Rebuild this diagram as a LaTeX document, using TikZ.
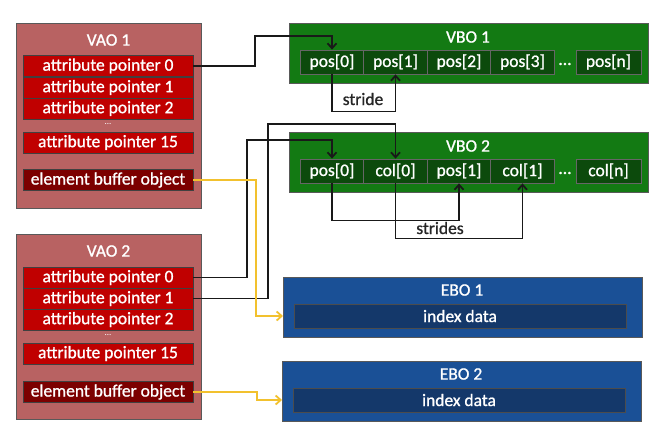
\documentclass[tikz,border=0pt]{standalone}
\usepackage{fontspec}
\setmainfont{Carlito}
\newfontfamily\boxfam{Carlito}[FakeBold=1]
\usepackage{tikz}
\usetikzlibrary{
    calc,
    positioning,
    arrows.meta
}
\definecolor{vaoback}{HTML}{B86262}
\definecolor{ptrred}{HTML}{C00000}
\definecolor{ebored}{HTML}{7C0000}
\definecolor{vbogreen}{HTML}{137A13}
\definecolor{cellgreen}{HTML}{0C4A0C}
\definecolor{ebofill}{HTML}{1A5096}
\definecolor{ebodata}{HTML}{14386A}
\definecolor{linkyellow}{HTML}{F2C12E}
\newcommand{\boxfont}{\boxfam\fontsize{17.5}{19}\selectfont}

\begin{document}
\begin{tikzpicture}[x=1pt,y=-1pt]
                  \useasboundingbox (0,0) rectangle (663,440);

                  % Box and link styles
                  \tikzset{
                        vaobox/.style={draw=black!65, line width=1pt, fill=vaoback, anchor=north west,
                              minimum width=185pt, minimum height=185pt, inner sep=0pt},
                        ptrrow/.style={draw=black!75, line width=0.8pt, fill=ptrred, text=white,
                              minimum width=170pt, minimum height=21pt, inner sep=0pt, font=\boxfont},
                        eborow/.style={ptrrow, fill=ebored},
                        boxtitle/.style={text=white, inner sep=0pt, font=\boxfont},
                        vbobox/.style={draw=black!65, line width=1pt, fill=vbogreen, anchor=north west,
                              minimum width=359pt, minimum height=60pt, inner sep=0pt},
                        cell/.style={draw=black!60, line width=0.8pt, fill=cellgreen, text=white,
                              minimum width=63.5pt, minimum height=24pt, inner sep=0pt, font=\boxfont},
                        ebobox/.style={draw=black!65, line width=1pt, fill=ebofill, anchor=north west,
                              minimum width=359pt, minimum height=60pt, inner sep=0pt},
                        datarow/.style={draw=black!70, line width=0.8pt, fill=ebodata, text=white,
                              minimum width=332pt, minimum height=24pt, inner sep=0pt, font=\boxfont},
                        steplabel/.style={text=black!85, inner sep=0pt, font=\boxfont},
                        link/.style={-{Straight Barb[length=5pt,width=9pt]}, line width=1.8pt, black!90},
                        ebolink/.style={-{Straight Barb[length=5pt,width=9pt]}, line width=1.8pt, linkyellow}
                  }

                  % VAO 1 with its attribute pointers
                  \node[vaobox] (vao1) at (16,23) {};
                  \node[boxtitle] (vao1_title) at (108.5,40) {VAO 1};
                  \node[ptrrow] (vao1_p0) at (108,66) {attribute pointer 0};
                  \node[ptrrow] (vao1_p1) at (108,87.5) {attribute pointer 1};
                  \node[ptrrow] (vao1_p2) at (108,108.5) {attribute pointer 2};
                  \node[boxtitle, font=\small] (vao1_dots) at (108,124) {...};
                  \node[ptrrow] (vao1_p15) at (108,142.5) {attribute pointer 15};
                  \node[eborow] (vao1_ebo) at (108,180) {element buffer object};

                  % VAO 2 with its attribute pointers
                  \node[vaobox] (vao2) at (16,234) {};
                  \node[boxtitle] (vao2_title) at (108.5,251) {VAO 2};
                  \node[ptrrow] (vao2_p0) at (108,277.5) {attribute pointer 0};
                  \node[ptrrow] (vao2_p1) at (108,298.5) {attribute pointer 1};
                  \node[ptrrow] (vao2_p2) at (108,319.5) {attribute pointer 2};
                  \node[boxtitle, font=\small] (vao2_dots) at (108,335) {...};
                  \node[ptrrow] (vao2_p15) at (108,353.5) {attribute pointer 15};
                  \node[eborow] (vao2_ebo) at (108,392) {element buffer object};

                  % VBO 1: positions only
                  \node[vbobox] (vbo1) at (289,23) {};
                  \node[boxtitle] (vbo1_title) at (468,37) {VBO 1};
                  \node[cell] (vbo1_p0) at (332,62) {pos[0]};
                  \node[cell] (vbo1_p1) at (395.5,62) {pos[1]};
                  \node[cell] (vbo1_p2) at (459,62) {pos[2]};
                  \node[cell] (vbo1_p3) at (522.5,62) {pos[3]};
                  \node[boxtitle] (vbo1_dots) at (565,64) {...};
                  \node[cell, minimum width=65pt] (vbo1_pn) at (608.5,62) {pos[n]};

                  % VBO 2: positions and colours interleaved
                  \node[vbobox] (vbo2) at (289,132) {};
                  \node[boxtitle] (vbo2_title) at (468,146) {VBO 2};
                  \node[cell] (vbo2_p0) at (332,171) {pos[0]};
                  \node[cell] (vbo2_c0) at (395.5,171) {col[0]};
                  \node[cell] (vbo2_p1) at (459,171) {pos[1]};
                  \node[cell] (vbo2_c1) at (522.5,171) {col[1]};
                  \node[boxtitle] (vbo2_dots) at (565,173) {...};
                  \node[cell, minimum width=65pt] (vbo2_cn) at (608.5,171) {col[n]};

                  % Element buffers
                  \node[ebobox] (ebo1) at (283,277) {};
                  \node[boxtitle] (ebo1_title) at (462,290) {EBO 1};
                  \node[datarow] (ebo1_data) at (460,316) {index data};
                  \node[ebobox] (ebo2) at (282,361) {};
                  \node[boxtitle] (ebo2_title) at (461,374) {EBO 2};
                  \node[datarow] (ebo2_data) at (459,400) {index data};

                  % Bend points of the pointer links
                  \coordinate (bend_a) at (255,36);
                  \coordinate (bend_b) at (247,140);
                  \coordinate (bend_c) at (268,124);
                  \coordinate (bend_d) at (256,316);
                  \coordinate (bend_e) at (257,400);

                  % Attribute pointers into the VBOs
                  \draw[link] (vao1_p0.east) -| (bend_a) -| (vbo1_p0.north);
                  \draw[link] (vao2_p0.east) -| (bend_b) -| (vbo2_p0.north);
                  \draw[link] (vao2_p1.east) -| (bend_c) -| (vbo2_c0.north);

                  % Strides
                  \draw[link] (vbo1_p0.south) -- ++(0,37) -| (vbo1_p1.south);
                  \node[steplabel] (stride_lbl) at (363,99) {stride};
                  \draw[link] (vbo2_p0.south) -- ++(0,37) -| (vbo2_p1.south);
                  \draw[link] (vbo2_c0.south) -- ++(0,55) -| (vbo2_c1.south);
                  \node[steplabel] (strides_lbl) at (440,228) {strides};

                  % Element buffer links
                  \draw[ebolink] (vao1_ebo.east) -| (bend_d) -- (ebo1.west |- bend_d);
                  \draw[ebolink] (vao2_ebo.east) -| (bend_e) -- (ebo2.west |- bend_e);
\end{tikzpicture}
\end{document}
